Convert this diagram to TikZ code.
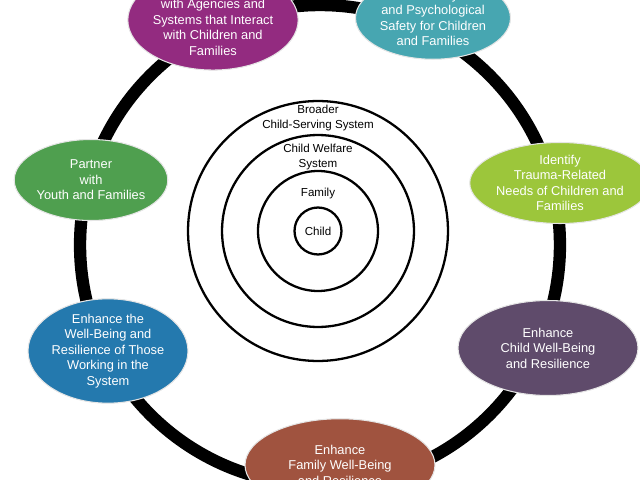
\documentclass[tikz,border=0pt]{standalone}
\usepackage{fontspec}
\setmainfont{Liberation Sans}
\usetikzlibrary{shapes.geometric}
\definecolor{cpurple}{HTML}{932B80}
\definecolor{cteal}{HTML}{47A6B1}
\definecolor{clime}{HTML}{9CC63B}
\definecolor{cmauve}{HTML}{5F4B6B}
\definecolor{cbrown}{HTML}{A0533F}
\definecolor{cblue}{HTML}{2479AE}
\definecolor{cgreen}{HTML}{4F9F4F}
\tikzset{
  goal/.style={ellipse, draw=white!80!gray, line width=0.6pt, text=white, align=center,
    font=\fontsize{7.3}{8.8}\selectfont, inner sep=0pt},
  ring/.style={circle, draw=black, line width=1.3pt, inner sep=0pt},
  ringtext/.style={align=center, font=\fontsize{6.6}{8}\selectfont}
}
\begin{document}
\begin{tikzpicture}[x=0.02cm,y=-0.02cm]
            \useasboundingbox (0,0) rectangle (640,480);
            \clip (0,0) rectangle (640,480);
            \node[circle, draw=black, line width=7pt, minimum size=9.6cm] (wheel) at (320,245){};

            \node[ring, minimum size=5.2cm] (broader) at (318,231){};
            \node[ring, minimum size=3.84cm] (welfare) at (318,231){};
            \node[ring, minimum size=2.4cm] (family) at (318,231){};
            \node[ring, minimum size=0.94cm] (child) at (318,231){};
            \node[ringtext] (broaderlbl) at (318,118){Broader\\Child-Serving System};
            \node[ringtext] (welfarelbl) at (318,157){Child Welfare\\System};
            \node[ringtext] (familylbl) at (318,194){Family};
            \node[ringtext] (childlbl) at (318,231){Child};

            \node[goal, fill=cpurple, minimum width=3.2cm, minimum height=1.6cm] (agencies) at (213,20){Partner\\with Agencies and\\Systems that Interact\\with Children and\\Families};
            \node[goal, fill=cteal, minimum width=3.1cm, minimum height=1.65cm] (safety) at (433,18){Enhance Physical\\and Psychological\\Safety for Children\\and Families};
            \node[goal, fill=clime, minimum width=2.98cm, minimum height=1.62cm] (identify) at (560,183){Identify\\Trauma-Related\\Needs of Children and\\Families};
            \node[goal, fill=cmauve, minimum width=3.6cm, minimum height=1.9cm] (childwb) at (548,348){Enhance\\Child Well-Being\\and Resilience};
            \node[goal, fill=cbrown, minimum width=3.8cm, minimum height=1.85cm] (familywb) at (340,465){Enhance\\Family Well-Being\\and Resilience};
            \node[goal, fill=cblue, minimum width=3.2cm, minimum height=1.9cm] (workers) at (108,351){Enhance the\\Well-Being and\\Resilience of Those\\Working in the\\System};
            \node[goal, fill=cgreen, minimum width=3.0cm, minimum height=1.62cm] (youth) at (91,180){Partner\\with\\Youth and Families};
        \end{tikzpicture}
\end{document}
